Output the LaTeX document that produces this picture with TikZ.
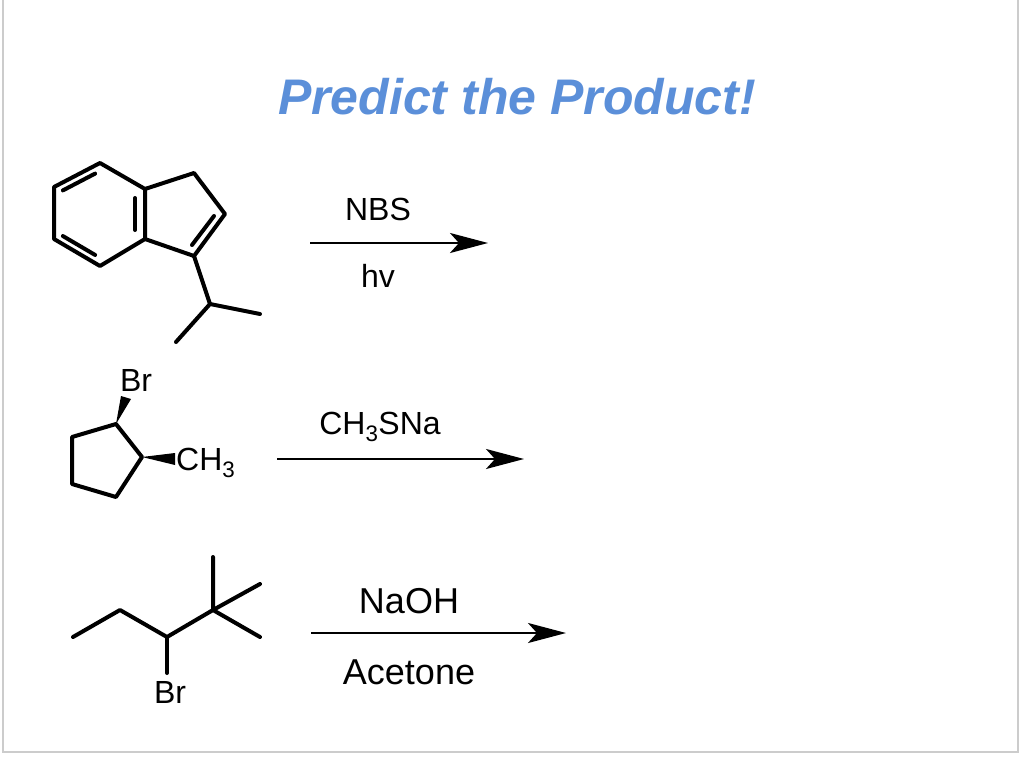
\documentclass[tikz,border=0pt]{standalone}
\usepackage{fontspec}
\setmainfont{Liberation Sans}
\usetikzlibrary{arrows.meta,calc}
\definecolor{ttl}{HTML}{5B8FD9}
\begin{document}
\begin{tikzpicture}[x=1pt,y=-1pt,
  bond/.style={line width=4pt,line cap=round,line join=round},
  rxn/.style={line width=2.6pt,-{Stealth[length=38pt,width=20pt,inset=9pt]}},
  lbl/.style={font=\fontsize{32}{36}\selectfont,inner sep=0pt}]
\useasboundingbox (0,0) rectangle (1024,757);
\fill[white] (0,0) rectangle (1024,757);
\draw[gray!40,line width=1.5pt] (3,-5) -- (3,752) -- (1018,752) -- (1018,-5);
\node[font=\fontsize{50}{56}\selectfont\bfseries\itshape,text=ttl] (title) at (517,97) {Predict the Product!};
% indene
\coordinate (a1) at (100,163); \coordinate (a2) at (54,187); \coordinate (a3) at (54,239);
\coordinate (a4) at (100,266); \coordinate (a5) at (145,239); \coordinate (a6) at (145,189);
\coordinate (b1) at (194,173); \coordinate (b2) at (225,214); \coordinate (b3) at (194,256);
\coordinate (ip) at (210,304); \coordinate (m1) at (260,314); \coordinate (m2) at (176,342);
\draw[bond] (a1)--(a2)--(a3)--(a4)--(a5)--(a6)--cycle;
\draw[bond] (a6)--(b1)--(b2)--(b3)--(a5);
\draw[bond] (b3)--(ip)--(m1); \draw[bond] (ip)--(m2);
\draw[bond] ($(a1)!0.15!(a2)+(2,7)$) -- ($(a1)!0.85!(a2)+(2,7)$);
\draw[bond] ($(a3)!0.15!(a4)+(2,-7)$) -- ($(a3)!0.85!(a4)+(2,-7)$);
\draw[bond] (135,198) -- (135,230);
\draw[bond] (214,216) -- (192,245);
% cyclopentane
\coordinate (c1) at (116,424); \coordinate (c2) at (142,457); \coordinate (c3) at (116,497);
\coordinate (c4) at (72,484); \coordinate (c5) at (72,437);
\draw[bond] (c1)--(c2)--(c3)--(c4)--(c5)--cycle;
\fill (c1) -- (121,396) -- (131,399) -- cycle;
\fill (c2) -- (175,453) -- (175,465) -- cycle;
\node[lbl] (br1) at (136,380) {Br};
\node[lbl,anchor=west] (ch3) at (176,463) {CH\textsubscript{3}};
% chain
\coordinate (d1) at (73,637); \coordinate (d2) at (120,610); \coordinate (d3) at (167,637);
\coordinate (d4) at (213,610); \coordinate (e1) at (213,557); \coordinate (e2) at (260,584);
\coordinate (e3) at (260,637); \coordinate (d5) at (167,673);
\draw[bond] (d1)--(d2)--(d3)--(d4)--(e1); \draw[bond] (d4)--(e2); \draw[bond] (d4)--(e3);
\draw[bond] (d3)--(d5);
\node[lbl] (br2) at (170,692) {Br};
% arrows
\coordinate (r1s) at (310,243); \coordinate (r1e) at (488,243);
\coordinate (r2s) at (277,459); \coordinate (r2e) at (524,459);
\coordinate (r3s) at (311,633); \coordinate (r3e) at (566,633);
\draw[rxn] (r1s) -- (r1e); \draw[rxn] (r2s) -- (r2e); \draw[rxn] (r3s) -- (r3e);
\node[lbl] (nbs) at (378,209) {NBS};
\node[lbl] (hv) at (378,276) {hv};
\node[lbl] (ms) at (380,427) {CH\textsubscript{3}SNa};
\node[lbl,font=\fontsize{36}{40}\selectfont] (naoh) at (409,601) {NaOH};
\node[lbl,font=\fontsize{36}{40}\selectfont] (ace) at (409,672) {Acetone};
\end{tikzpicture}
\end{document}
